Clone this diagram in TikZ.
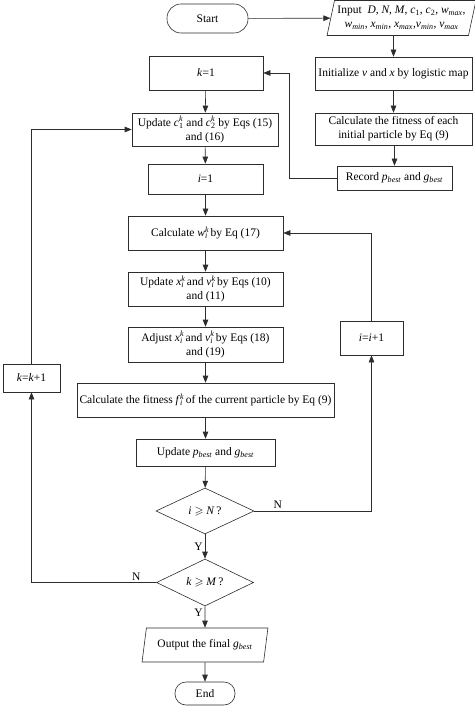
\documentclass[tikz,border=0pt]{standalone}
\usepackage{fontspec}
\setmainfont{Liberation Serif}
\usepackage{amssymb}
\usepackage{xcolor}
\definecolor{flowgray}{RGB}{45,45,45}
\usepackage{tikz}
\usetikzlibrary{shapes.geometric, arrows.meta, positioning}

\newcommand{\isub}[2]{\textit{#1}\textsubscript{\textit{#2}}}
\newcommand{\nsub}[2]{\textit{#1}\textsubscript{#2}}
\newcommand{\subsup}[3]{\textit{#1}\rlap{\textsuperscript{\textit{#3}}}\textsubscript{#2}}

\begin{document}
\begin{tikzpicture}[
  x=1pt, y=-1pt,
  terminal/.style={rectangle, rounded corners=11pt, draw=flowgray, line width=0.6pt, align=center, font=\fontsize{11.5}{13}\selectfont, inner sep=1pt},
  box/.style={rectangle, draw=flowgray, line width=0.6pt, align=center, font=\fontsize{11.5}{14}\selectfont, inner sep=1pt},
  io/.style={trapezium, trapezium left angle=74, trapezium right angle=106, trapezium stretches=true, draw=flowgray, line width=0.6pt, align=center, font=\fontsize{11.5}{14}\selectfont, inner sep=1pt},
  decision/.style={diamond, draw=flowgray, line width=0.6pt, align=center, font=\fontsize{11.5}{13}\selectfont, inner sep=0pt},
  flow/.style={-{Triangle[length=7pt,width=5.5pt]}, line width=0.6pt, draw=flowgray},
  flowlabel/.style={font=\fontsize{11.5}{13}\selectfont, inner sep=2pt}
]
\useasboundingbox (0,0) rectangle (474,708);

% Start and input
\node[terminal, minimum width=81pt, minimum height=29pt, rounded corners=14pt] (start) at (207.5,18.5) {Start};
\node[io, minimum width=149pt, minimum height=35pt] (input) at (401.5,18) {Input\ \ \textit{D}, \textit{N}, \textit{M}, \nsub{c}{1}, \nsub{c}{2}, \isub{w}{max},\\\isub{w}{min}, \isub{x}{min}, \isub{x}{max},\isub{v}{min}, \isub{v}{max}};

% Initialisation
\node[box, minimum width=157pt, minimum height=33pt] (init) at (393.5,73.5) {Initialize \textit{v} and \textit{x} by logistic map};
\node[box, minimum width=157pt, minimum height=32pt] (fit0) at (393.5,129) {Calculate the fitness of each\\initial particle by Eq (9)};
\node[box, minimum width=115pt, minimum height=24pt] (record) at (394.5,178) {Record \isub{p}{best} and \isub{g}{best}};

% Main loop
\node[box, minimum width=114pt, minimum height=34pt] (k1) at (206,73) {\textit{k}=1};
\node[box, minimum width=146pt, minimum height=33pt] (updc) at (205,129.5) {Update \subsup{c}{1}{k} and \subsup{c}{2}{k} by Eqs (15)\\and (16)};
\node[box, minimum width=115pt, minimum height=30pt] (i1) at (205.5,179) {\textit{i}=1};
\node[box, minimum width=155pt, minimum height=34pt] (calcw) at (205.5,233) {Calculate \subsup{w}{\textit{i}}{k} by Eq (17)};
\node[box, minimum width=155pt, minimum height=34pt] (updx) at (205.5,289) {Update \subsup{x}{\textit{i}}{k} and \subsup{v}{\textit{i}}{k} by Eqs (10)\\and (11)};
\node[box, minimum width=155pt, minimum height=35pt] (adj) at (205.5,344.5) {Adjust \subsup{x}{\textit{i}}{k} and \subsup{v}{\textit{i}}{k} by Eqs (18)\\and (19)};
\node[box, minimum width=257pt, minimum height=34pt] (fitf) at (205.5,400) {Calculate the fitness \subsup{f}{\textit{i}}{k} of the current particle by Eq (9)};
\node[box, minimum width=139pt, minimum height=27pt] (updp) at (205.5,452.5) {Update \isub{p}{best} and \isub{g}{best}};
\node[decision, minimum width=98pt, minimum height=46pt] (dN) at (205,511) {\textit{i} $\geqslant$ \textit{N}\,?};
\node[decision, minimum width=97pt, minimum height=47pt] (dM) at (205,582.5) {\textit{k} $\geqslant$ \textit{M}\,?};
\node[io, minimum width=126pt, minimum height=34pt] (out) at (205,645) {Output the final \isub{g}{best}};
\node[terminal, minimum width=60pt, minimum height=23pt] (end) at (205,693.5) {End};

% Counters
\node[box, minimum width=63pt, minimum height=34pt] (inci) at (371.5,338) {\textit{i}=\textit{i}+1};
\node[box, minimum width=57pt, minimum height=28pt] (inck) at (31.5,378) {\textit{k}=\textit{k}+1};

% Flows
\draw[flow] (start) -- (input);
\draw[flow] (input.south -| init.north) -- (init.north);
\draw[flow] (init) -- (fit0);
\draw[flow] (fit0.south -| record.north) -- (record.north);
\draw[flow] (record.west) -- ++(-47,0) |- (k1.east);

\draw[flow] (k1) -- (updc);
\draw[flow] (updc) -- (i1);
\draw[flow] (i1) -- (calcw);
\draw[flow] (calcw) -- (updx);
\draw[flow] (updx) -- (adj);
\draw[flow] (adj) -- (fitf);
\draw[flow] (fitf) -- (updp);
\draw[flow] (updp) -- (dN);
\draw[flow] (dN) -- node[flowlabel, left] {Y} (dM);
\draw[flow] (dM) -- node[flowlabel, left, pos=0.3] {Y} (out);
\draw[flow] (out) -- (end);

\draw[flow] (dN.east) -| node[flowlabel, above, pos=0.1] {N} (inci.south);
\draw[flow] (inci.north) |- (calcw.east);
\draw[flow] (dM.west) -| node[flowlabel, above, pos=0.08] {N} (inck.south);
\draw[flow] (inck.north) |- (updc.west);

\end{tikzpicture}
\end{document}
